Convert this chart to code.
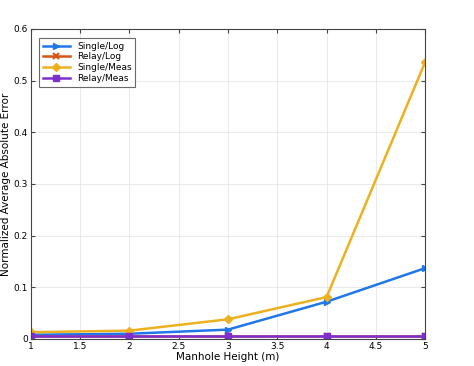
import numpy as np, matplotlib.pyplot as plt

heights = [1, 2, 3, 4, 5]
single_log = [0.008, 0.010, 0.018, 0.072, 0.137]
relay_log = [0.006, 0.006, 0.006, 0.006, 0.006]
single_meas = [0.013, 0.016, 0.038, 0.081, 0.536]
relay_meas = [0.006, 0.006, 0.006, 0.006, 0.006]

fig = plt.figure(figsize=(4.74, 3.66), dpi=100)
ax = fig.add_axes([0.065, 0.074, 0.832, 0.847])

ax.plot(heights, single_log, color="#1f77e8", lw=1.8, marker=">", ms=5, label="Single/Log")
ax.plot(heights, relay_log, color="#d95319", lw=1.8, marker="x", ms=4, mew=1.5, label="Relay/Log")
ax.plot(heights, single_meas, color="#edb120", lw=1.8, marker="D", ms=4.5, label="Single/Meas")
ax.plot(heights, relay_meas, color="#7e2fd0", lw=1.8, marker="s", ms=4.5, label="Relay/Meas")

ax.set_xlim(1, 5); ax.set_ylim(0, 0.6)
ax.set_xticks(np.arange(1, 5.01, 0.5))
ax.set_xticklabels(["1", "1.5", "2", "2.5", "3", "3.5", "4", "4.5", "5"])
ax.set_yticks(np.arange(0, 0.61, 0.1))
ax.set_yticklabels(["0", "0.1", "0.2", "0.3", "0.4", "0.5", "0.6"])
ax.grid(True, color="#e6e6e6", lw=0.6)
ax.tick_params(direction="in", top=True, right=True, labelsize=6.5, length=3, color="#444444", pad=2)
for s in ax.spines.values():
    s.set_color("#444444"); s.set_linewidth(0.8)
ax.set_xlabel("Manhole Height (m)", fontsize=7.5, labelpad=1)
ax.set_ylabel("Normalized Average Absolute Error", fontsize=7.5, labelpad=2)
leg = ax.legend(loc="upper left", fontsize=6.5, frameon=True, fancybox=False, edgecolor="#444444",
                handlelength=3, borderpad=0.4, labelspacing=0.2, bbox_to_anchor=(0.01, 0.985))
leg.get_frame().set_linewidth(0.8)

fig.savefig("out.png", dpi=100)
